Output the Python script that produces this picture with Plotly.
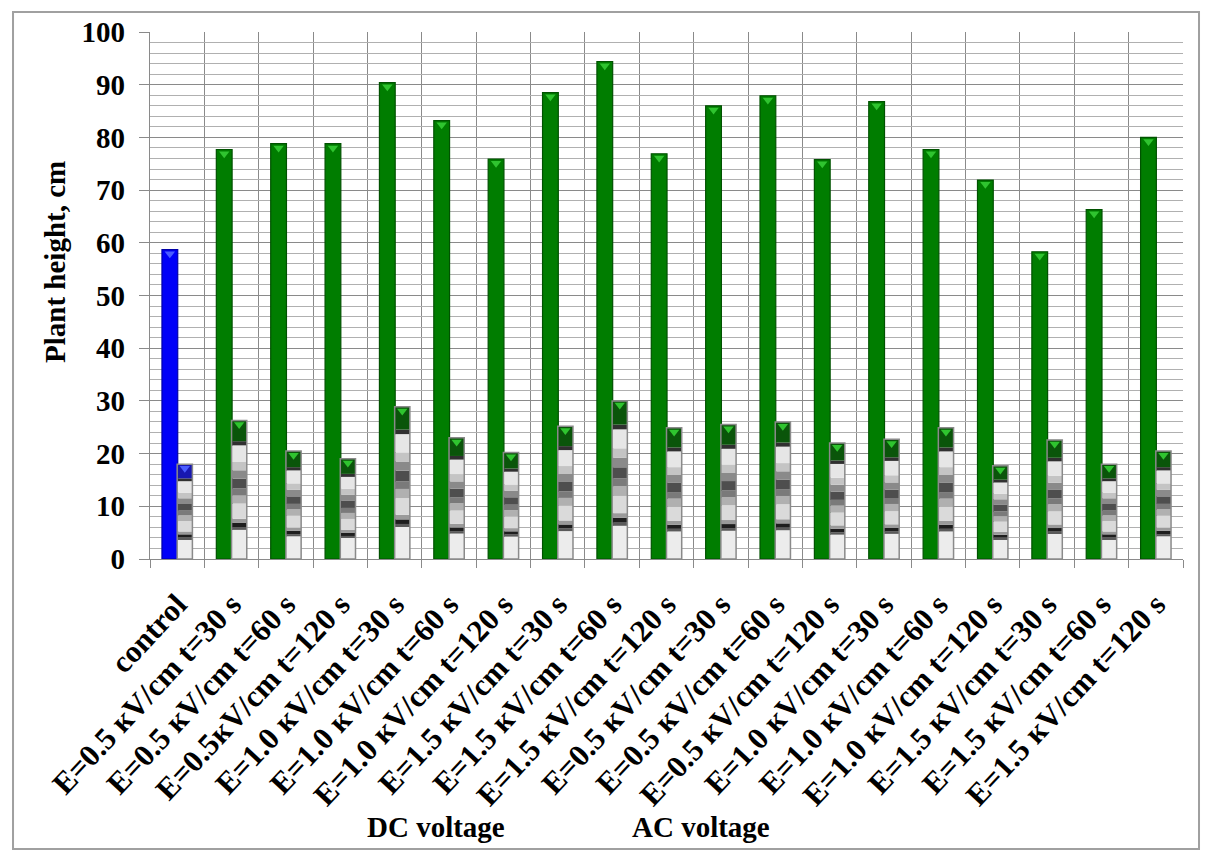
import plotly.graph_objects as go

categories = [
    "control",
    "E=0.5 кV/cm t=30 s", "E=0.5 кV/cm t=60 s", "E=0.5кV/cm t=120 s",
    "E=1.0 кV/cm t=30 s", "E=1.0 кV/cm t=60 s", "E=1.0 кV/cm t=120 s",
    "E=1.5 кV/cm t=30 s", "E=1.5 кV/cm t=60 s", "E=1.5 кV/cm t=120 s",
    "E=0.5 кV/cm t=30 s", "E=0.5 кV/cm t=60 s", "E=0.5 кV/cm t=120 s",
    "E=1.0 кV/cm t=30 s", "E=1.0 кV/cm t=60 s", "E=1.0 кV/cm t=120 s",
    "E=1.5 кV/cm t=30 s", "E=1.5 кV/cm t=60 s", "E=1.5 кV/cm t=120 s",
]
plant_height = [58.7, 77.7, 78.8, 78.8, 90.4, 83.2, 75.9, 88.5, 94.4, 76.9,
                86.0, 87.9, 75.8, 86.8, 77.7, 71.9, 58.3, 66.3, 80.0]
second_series = [18.0, 26.3, 20.5, 19.0, 28.9, 23.0, 20.2, 25.2, 30.0, 24.9,
                 25.5, 26.0, 22.0, 22.7, 24.9, 17.7, 22.6, 18.0, 20.5]
y_ticks = [0, 10, 20, 30, 40, 50, 60, 70, 80, 90, 100]

FONT = "Liberation Serif"
idx = list(range(len(categories)))

main_colors = ["#0000f8" if i == 0 else "#007d00" for i in idx]
edge_colors = ["#0000a8" if i == 0 else "#005200" for i in idx]
cap_colors = ["#1818b0" if i == 0 else "#0a550a" for i in idx]
tri_colors = ["#4a5cff" if i == 0 else "#2fc42f" for i in idx]

TALL_OFF, TALL_W = -0.28, 0.29
SHORT_OFF, SHORT_W = 0.0, 0.28

fig = go.Figure()

# tall bars
fig.add_trace(go.Bar(
    x=idx, y=plant_height, offset=TALL_OFF, width=TALL_W,
    marker=dict(color=main_colors, line=dict(color=edge_colors, width=1.2)),
    showlegend=False, hoverinfo="y",
))

# short bars drawn as a textured gray column with coloured cap
bands = [
    (0.00, 0.21, "#ececec"), (0.21, 0.23, "#5a5a5a"), (0.23, 0.26, "#1e1e1e"),
    (0.26, 0.29, "#9a9a9a"), (0.29, 0.40, "#dadada"), (0.40, 0.46, "#b0b0b0"),
    (0.46, 0.51, "#7a7a7a"), (0.51, 0.58, "#4e4e4e"), (0.58, 0.64, "#8a8a8a"),
    (0.64, 0.70, "#c4c4c4"), (0.70, 0.82, "#e6e6e6"), (0.82, 0.85, "#303030"),
]
for f0, f1, col in bands:
    fig.add_trace(go.Bar(
        x=idx, y=[v * (f1 - f0) for v in second_series],
        base=[v * f0 for v in second_series],
        offset=SHORT_OFF, width=SHORT_W,
        marker=dict(color=col, line=dict(width=0)),
        showlegend=False, hoverinfo="skip",
    ))
fig.add_trace(go.Bar(
    x=idx, y=[v * 0.15 for v in second_series],
    base=[v * 0.85 for v in second_series],
    offset=SHORT_OFF, width=SHORT_W,
    marker=dict(color=cap_colors, line=dict(width=0)),
    showlegend=False, hoverinfo="skip",
))
# darker sides of short bars
fig.add_trace(go.Bar(
    x=idx, y=second_series, offset=SHORT_OFF, width=SHORT_W,
    marker=dict(color="rgba(0,0,0,0)", line=dict(color="#8a8a8a", width=1.5)),
    showlegend=False, hoverinfo="y",
))

# top highlight triangles
fig.add_trace(go.Scatter(
    x=[i + TALL_OFF + TALL_W / 2 for i in idx], y=[v - 0.8 for v in plant_height],
    mode="markers", marker=dict(symbol="triangle-down", size=9, color=tri_colors, line=dict(width=0)),
    showlegend=False, hoverinfo="skip",
))
fig.add_trace(go.Scatter(
    x=[i + SHORT_OFF + SHORT_W / 2 for i in idx], y=[v - 0.8 for v in second_series],
    mode="markers", marker=dict(symbol="triangle-down", size=9, color=tri_colors, line=dict(width=0)),
    showlegend=False, hoverinfo="skip",
))

fig.update_layout(
    width=1210, height=859,
    margin=dict(l=150, r=27, t=32, b=300),
    paper_bgcolor="white", plot_bgcolor="white",
    barmode="overlay",
    font=dict(family=FONT, color="black"),
    showlegend=False,
)

fig.update_xaxes(
    range=[-0.5, len(categories) - 0.5],
    tickmode="array", tickvals=idx, ticktext=categories,
    tickangle=-47, tickfont=dict(family=FONT, size=31, weight="bold", color="black"),
    ticklabelstandoff=14,
    ticks="", showgrid=False, automargin=False,
    showline=True, linecolor="#8a8a8a", linewidth=1,
    minor=dict(tickvals=[i - 0.5 for i in range(len(categories) + 1)],
               showgrid=True, gridcolor="#8a8a8a", gridwidth=1.3,
               ticks="outside", ticklen=8, tickcolor="#8a8a8a", tickwidth=1.3),
    zeroline=False,
)
fig.update_yaxes(
    range=[0, 100], tickmode="array", tickvals=y_ticks,
    tickfont=dict(family=FONT, size=29, weight="bold", color="black"),
    ticks="outside", ticklen=10, tickcolor="#8a8a8a", tickwidth=1.3,
    ticklabelstandoff=8, automargin=False,
    showgrid=True, gridcolor="#8a8a8a", gridwidth=1.3,
    minor=dict(dtick=2, showgrid=True, gridcolor="#b0b0b0", gridwidth=1),
    showline=True, linecolor="#8a8a8a", linewidth=1.3,
    zeroline=False,
)

fig.add_annotation(text="<b>Plant height, cm</b>", xref="paper", yref="paper",
                   x=-0.0920, y=0.5636, xanchor="center", yanchor="middle",
                   textangle=-90, showarrow=False,
                   font=dict(family=FONT, size=29, color="black"))
fig.add_annotation(text="<b>DC voltage</b>", xref="paper", yref="paper",
                   x=0.277, y=-0.5085, xanchor="center", yanchor="middle",
                   showarrow=False, font=dict(family=FONT, size=29, color="black"))
fig.add_annotation(text="<b>AC voltage</b>", xref="paper", yref="paper",
                   x=0.533, y=-0.5085, xanchor="center", yanchor="middle",
                   showarrow=False, font=dict(family=FONT, size=29, color="black"))

fig.add_shape(type="rect", xref="paper", yref="paper",
              x0=-0.1326, x1=1.0155, y0=-0.5503, y1=1.038,
              line=dict(color="#a0a0a0", width=2), layer="below")

fig.write_html("out.html")
